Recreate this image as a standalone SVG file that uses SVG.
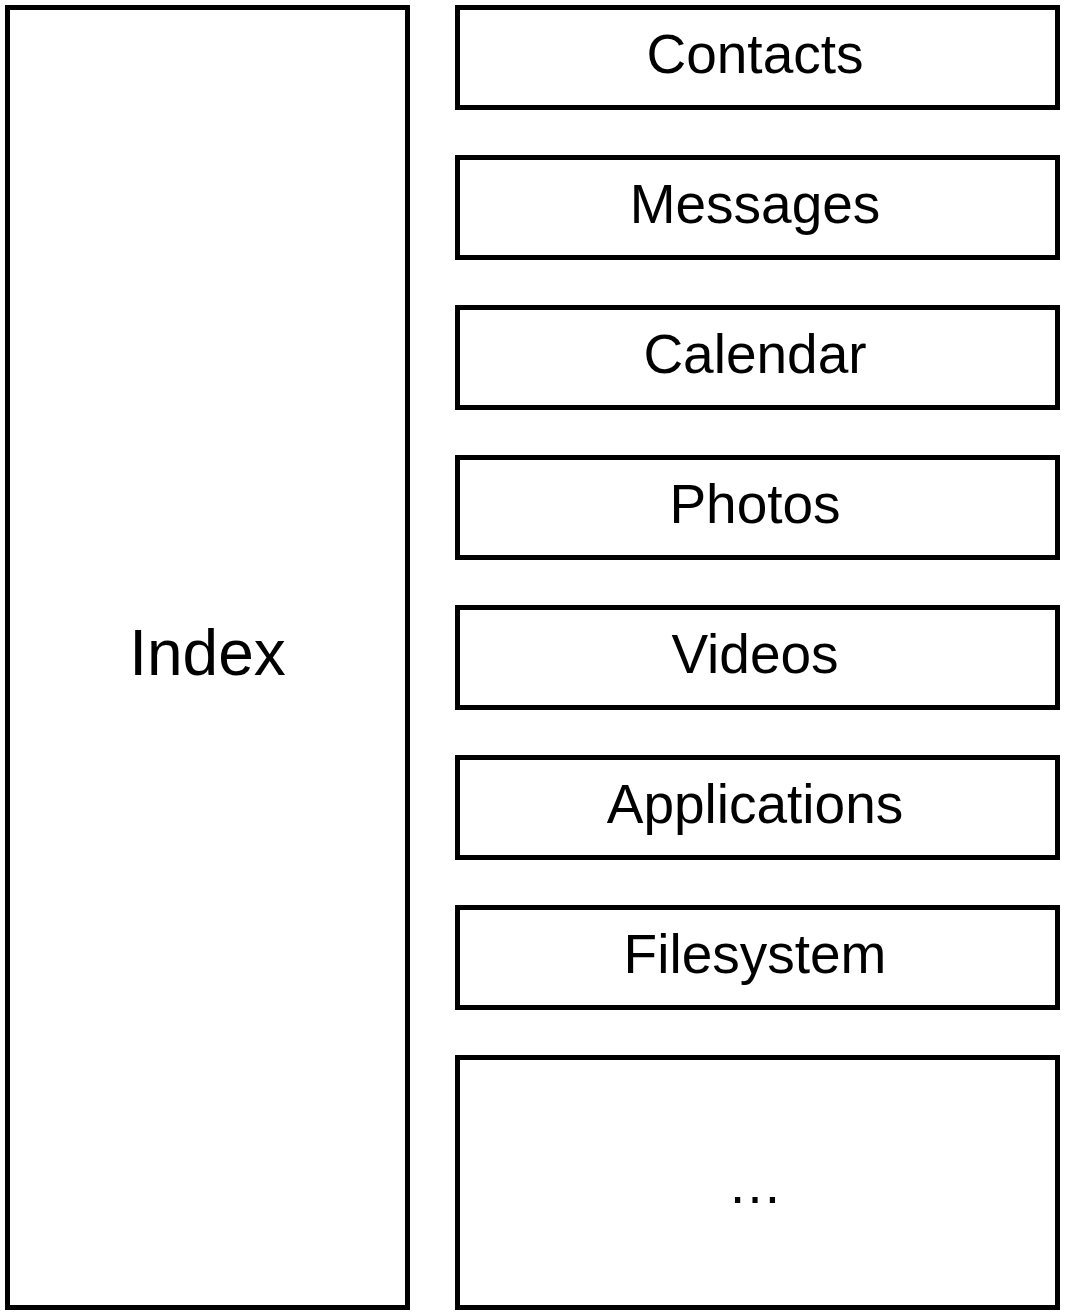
<svg xmlns="http://www.w3.org/2000/svg" width="1065" height="1315" viewBox="0 0 1065 1315">
<style>
.box{fill:#fff;stroke:#000;stroke-width:5}
.lbl{font-family:"Liberation Sans",Arial,sans-serif;font-size:55px;fill:#000;text-anchor:middle}
.big{font-size:64px}
</style>
<rect width="1065" height="1315" fill="#fff"/>
<g id="index"><rect class="box" x="7.5" y="7.5" width="400" height="1300"/><text class="lbl big" x="207.5" y="675">Index</text></g>
<g id="contacts"><rect class="box" x="457.5" y="7.5" width="600" height="100"/><text class="lbl" x="755" y="72.5">Contacts</text></g>
<g id="messages"><rect class="box" x="457.5" y="157.5" width="600" height="100"/><text class="lbl" x="755" y="222.5">Messages</text></g>
<g id="calendar"><rect class="box" x="457.5" y="307.5" width="600" height="100"/><text class="lbl" x="755" y="372.5">Calendar</text></g>
<g id="photos"><rect class="box" x="457.5" y="457.5" width="600" height="100"/><text class="lbl" x="755" y="522.5">Photos</text></g>
<g id="videos"><rect class="box" x="457.5" y="607.5" width="600" height="100"/><text class="lbl" x="755" y="672.5">Videos</text></g>
<g id="applications"><rect class="box" x="457.5" y="757.5" width="600" height="100"/><text class="lbl" x="755" y="822.5">Applications</text></g>
<g id="filesystem"><rect class="box" x="457.5" y="907.5" width="600" height="100"/><text class="lbl" x="755" y="972.5">Filesystem</text></g>
<g id="more"><rect class="box" x="457.5" y="1057.5" width="600" height="250"/><text class="lbl" x="755" y="1203">…</text></g>
<g id="connectors"/>
</svg>
